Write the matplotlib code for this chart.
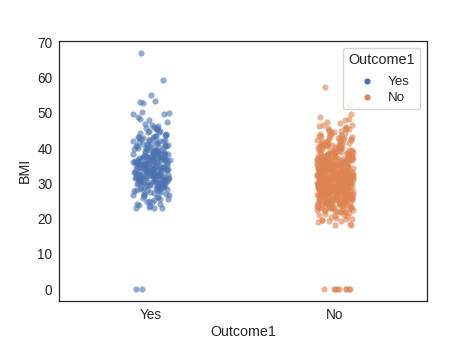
import numpy as np
import matplotlib
matplotlib.use("Agg")
import matplotlib.pyplot as plt

# BMI values by Outcome1 group
outcomes = ["Yes", "No"]

bmi_yes = [
    0.0, 0.0,
    22.9, 22.9, 23.1, 23.3, 23.6, 23.8, 24.0, 24.2, 24.6, 24.8,
    25.0, 25.2, 25.5, 25.6, 25.9, 26.1, 26.2, 26.4, 26.6, 26.8, 26.9,
    27.0, 27.1, 27.3, 27.5, 27.6, 27.8, 27.9,
    28.0, 28.1, 28.2, 28.4, 28.5, 28.7, 28.8, 28.9, 28.3, 28.6,
    29.0, 29.2, 29.3, 29.5, 29.6, 29.7, 29.8, 29.9, 29.1, 29.4, 29.6,
    30.0, 30.1, 30.2, 30.3, 30.4, 30.5, 30.5, 30.7, 30.8, 30.9, 30.1, 30.4, 30.6, 30.8, 30.0,
    31.0, 31.2, 31.2, 31.3, 31.6, 31.6, 31.9, 31.1, 31.4, 31.5, 31.7, 31.8, 31.0, 31.3, 31.6, 31.9,
    32.0, 32.1, 32.3, 32.4, 32.5, 32.7, 32.8, 32.9, 32.0, 32.2, 32.4, 32.6, 32.8, 32.9, 32.1, 32.3,
    32.5, 32.7,
    33.0, 33.1, 33.2, 33.3, 33.3, 33.5, 33.6, 33.6, 33.7, 33.8, 33.9, 33.1, 33.2, 33.4, 33.5, 33.7,
    33.8, 33.9,
    34.0, 34.1, 34.2, 34.3, 34.5, 34.6, 34.7, 34.9, 34.0, 34.2, 34.4, 34.5, 34.7, 34.8, 34.1, 34.3,
    34.6,
    35.0, 35.1, 35.3, 35.4, 35.5, 35.7, 35.8, 35.9, 35.0, 35.2, 35.3, 35.5, 35.6, 35.8, 35.1, 35.4,
    35.9,
    36.0, 36.1, 36.3, 36.4, 36.5, 36.6, 36.8, 36.9, 36.0, 36.2, 36.4, 36.5, 36.7, 36.9, 36.1, 36.3,
    36.6,
    37.0, 37.1, 37.2, 37.4, 37.5, 37.6, 37.8, 37.9, 37.1, 37.3, 37.5, 37.7, 37.2, 37.6,
    38.0, 38.1, 38.2, 38.4, 38.5, 38.7, 38.8, 38.9, 38.1, 38.3, 38.5, 38.6, 38.2,
    39.0, 39.1, 39.2, 39.4, 39.5, 39.6, 39.8, 39.9, 39.0, 39.3, 39.5, 39.7,
    40.0, 40.2, 40.5, 40.6, 40.8, 40.9, 40.1, 40.5, 40.7,
    41.0, 41.2, 41.3, 41.5, 41.8, 41.1, 41.5, 41.9,
    42.0, 42.1, 42.3, 42.4, 42.7, 42.9, 42.2, 42.6,
    43.1, 43.3, 43.4, 43.6, 43.8, 43.2, 43.5,
    44.0, 44.2, 44.5, 44.6, 44.9,
    45.0, 45.3, 45.5, 45.7, 45.6,
    46.1, 46.2, 46.5, 46.8,
    47.9, 47.4, 48.3, 48.8, 49.7, 49.6, 50.0, 50.4,
    52.9, 53.2, 53.5, 55.0, 59.4, 67.1,
]

bmi_no = [
    0.0, 0.0, 0.0, 0.0, 0.0, 0.0, 0.0, 0.0, 0.0,
    18.2, 18.2, 18.4,
    19.1, 19.3, 19.4, 19.5, 19.6, 19.9,
    20.0, 20.1, 20.4, 20.7, 20.8,
    21.0, 21.1, 21.2, 21.7, 21.8, 21.8, 21.9,
    22.0, 22.1, 22.2, 22.2, 22.3, 22.4, 22.5, 22.5, 22.6, 22.7, 22.9, 22.9,
    23.0, 23.1, 23.1, 23.2, 23.2, 23.3, 23.3, 23.4, 23.5, 23.6, 23.6, 23.7, 23.8, 23.8, 23.9,
    24.0, 24.0, 24.1, 24.2, 24.2, 24.3, 24.3, 24.4, 24.4, 24.5, 24.6, 24.6, 24.7, 24.7, 24.8,
    24.8, 24.9, 24.2, 24.5,
    25.0, 25.0, 25.1, 25.1, 25.2, 25.2, 25.3, 25.3, 25.4, 25.4, 25.5, 25.5, 25.6, 25.6, 25.7,
    25.8, 25.8, 25.9, 25.9, 25.2, 25.0, 25.6,
    26.0, 26.0, 26.1, 26.1, 26.2, 26.2, 26.3, 26.3, 26.4, 26.4, 26.4, 26.5, 26.5, 26.6, 26.6,
    26.7, 26.7, 26.8, 26.8, 26.9, 26.9, 26.2, 26.5,
    27.0, 27.0, 27.1, 27.1, 27.2, 27.2, 27.3, 27.3, 27.3, 27.4, 27.4, 27.5, 27.5, 27.6, 27.6,
    27.6, 27.7, 27.7, 27.8, 27.8, 27.8, 27.9, 27.9, 27.1, 27.4,
    28.0, 28.0, 28.1, 28.1, 28.2, 28.2, 28.3, 28.3, 28.4, 28.4, 28.4, 28.5, 28.5, 28.6, 28.6,
    28.6, 28.7, 28.7, 28.7, 28.8, 28.8, 28.9, 28.9, 28.9, 28.0, 28.2, 28.5, 28.4,
    29.0, 29.0, 29.1, 29.1, 29.2, 29.2, 29.3, 29.3, 29.4, 29.4, 29.5, 29.5, 29.6, 29.6, 29.7,
    29.7, 29.8, 29.8, 29.9, 29.9, 29.0, 29.2, 29.3, 29.5, 29.6, 29.7, 29.8, 29.4, 29.1,
    30.0, 30.0, 30.1, 30.1, 30.2, 30.2, 30.3, 30.3, 30.4, 30.4, 30.5, 30.5, 30.6, 30.6, 30.7,
    30.7, 30.8, 30.8, 30.9, 30.9, 30.0, 30.1, 30.2, 30.4, 30.5, 30.6, 30.8, 30.9, 30.3, 30.5,
    31.0, 31.0, 31.1, 31.1, 31.2, 31.2, 31.3, 31.3, 31.4, 31.4, 31.5, 31.5, 31.6, 31.6, 31.6,
    31.7, 31.7, 31.8, 31.8, 31.9, 31.9, 31.0, 31.2, 31.3, 31.4, 31.6, 31.8, 31.9, 31.1, 31.5,
    32.0, 32.0, 32.1, 32.1, 32.2, 32.2, 32.3, 32.3, 32.4, 32.4, 32.5, 32.5, 32.6, 32.6, 32.7,
    32.7, 32.8, 32.8, 32.9, 32.9, 32.0, 32.2, 32.4, 32.5, 32.6, 32.8, 32.9, 32.3, 32.1,
    33.0, 33.0, 33.1, 33.1, 33.2, 33.2, 33.3, 33.3, 33.4, 33.4, 33.5, 33.5, 33.6, 33.6, 33.7,
    33.7, 33.8, 33.8, 33.9, 33.9, 33.1, 33.2, 33.3, 33.5, 33.6, 33.8, 33.0, 33.4,
    34.0, 34.0, 34.1, 34.1, 34.2, 34.2, 34.3, 34.3, 34.4, 34.4, 34.5, 34.5, 34.6, 34.6, 34.7,
    34.7, 34.8, 34.8, 34.9, 34.9, 34.0, 34.2, 34.5, 34.6, 34.8, 34.3,
    35.0, 35.0, 35.1, 35.2, 35.2, 35.3, 35.4, 35.4, 35.5, 35.5, 35.6, 35.6, 35.7, 35.8, 35.8,
    35.9, 35.9, 35.1, 35.3, 35.5, 35.7, 35.0,
    36.0, 36.1, 36.1, 36.2, 36.3, 36.3, 36.4, 36.5, 36.5, 36.6, 36.6, 36.7, 36.8, 36.8, 36.9,
    36.9, 36.0, 36.2, 36.4, 36.5, 36.7,
    37.0, 37.1, 37.2, 37.2, 37.3, 37.4, 37.5, 37.5, 37.6, 37.7, 37.8, 37.8, 37.9, 37.0, 37.3,
    37.6, 37.1, 37.4,
    38.0, 38.1, 38.2, 38.3, 38.4, 38.5, 38.5, 38.6, 38.7, 38.8, 38.9, 38.0, 38.2, 38.4, 38.6, 38.1,
    39.0, 39.1, 39.2, 39.4, 39.4, 39.5, 39.6, 39.7, 39.8, 39.9, 39.0, 39.3, 39.5, 39.6,
    40.0, 40.1, 40.2, 40.4, 40.5, 40.6, 40.7, 40.8, 40.9, 40.2, 40.5, 40.6,
    41.0, 41.2, 41.3, 41.5, 41.6, 41.8, 41.9, 41.1, 41.3, 41.5,
    42.0, 42.1, 42.3, 42.4, 42.6, 42.7, 42.9, 42.2, 42.5,
    43.0, 43.1, 43.3, 43.4, 43.6, 43.8, 43.2, 43.5,
    44.0, 44.2, 44.5, 44.6, 44.9, 44.1,
    45.2, 45.3, 45.6, 45.8, 45.0, 45.4,
    46.1, 46.2, 46.5, 46.7,
    47.4, 47.9, 47.0, 48.3, 48.8, 49.6,
    52.3, 57.3,
]

colors = {"Yes": "#4C72B0", "No": "#DD8452"}
text_color = "0.15"

plt.rcParams["font.family"] = ["Liberation Sans", "DejaVu Sans"]
plt.rcParams["text.color"] = text_color
plt.rcParams["axes.labelcolor"] = text_color
plt.rcParams["xtick.color"] = text_color
plt.rcParams["ytick.color"] = text_color

fig, ax = plt.subplots(figsize=(4.74, 3.38), dpi=100)
fig.subplots_adjust(left=0.125, right=0.901, bottom=0.11, top=0.879)

# strip plot: horizontal jitter around each category position
rng = np.random.default_rng(3)
for i, (name, vals) in enumerate(zip(outcomes, [bmi_yes, bmi_no])):
    vals = np.asarray(vals)
    xs = i + rng.uniform(-0.1, 0.1, size=len(vals))
    ax.scatter(xs, vals, s=20, color=colors[name], alpha=0.6,
               linewidths=0, label=name)

ax.set_xlim(-0.5, 1.5)
ax.set_xticks(range(len(outcomes)))
ax.set_xticklabels(outcomes)
ax.set_yticks(range(0, 71, 10))
ax.tick_params(length=0, labelsize=9.8, pad=5)
ax.set_xlabel("Outcome1", fontsize=10.3, labelpad=2)
ax.set_ylabel("BMI", fontsize=10.3, labelpad=4)

for sp in ax.spines.values():
    sp.set_color(text_color)
    sp.set_linewidth(0.9)

leg = ax.legend(title="Outcome1", loc="upper right", fontsize=9.6,
                title_fontsize=10.4, markerscale=1.0, handletextpad=0.6,
                borderpad=0.4, labelspacing=0.3)
leg._legend_box.sep = 6
for h in leg.legend_handles:
    h.set_alpha(1.0)

fig.savefig("out.png", dpi=100)
